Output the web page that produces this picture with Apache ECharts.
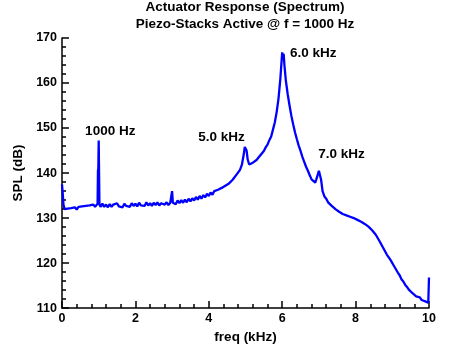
<!DOCTYPE html>
<html>
<head>
<meta charset="utf-8">
<script src="https://cdn.jsdelivr.net/npm/echarts@6/dist/echarts.min.js"></script>
<style>
  html, body { margin: 0; padding: 0; background: #fff; }
  #chart { width: 474px; height: 349px; }
</style>
</head>
<body>
<div id="chart"></div>
<script>
// spectrum: frequency (kHz) and SPL (dB)
const freq = [
  0.00, 0.02, 0.04, 0.07, 0.10, 0.15, 0.20, 0.25, 0.30, 0.35, 0.40, 0.45, 0.50, 0.55, 0.60, 0.65, 0.70, 0.75, 0.80, 0.85,
  0.90, 0.95, 0.97, 0.98, 0.99, 1.00, 1.01, 1.02, 1.05, 1.10, 1.15, 1.20, 1.25, 1.30, 1.35, 1.40, 1.45, 1.50, 1.55, 1.60,
  1.65, 1.70, 1.75, 1.80, 1.85, 1.90, 1.95, 2.00, 2.05, 2.10, 2.15, 2.20, 2.25, 2.30, 2.35, 2.40, 2.45, 2.50, 2.55, 2.60,
  2.65, 2.70, 2.75, 2.80, 2.85, 2.90, 2.95, 2.98, 3.00, 3.02, 3.05, 3.10, 3.15, 3.20, 3.25, 3.30, 3.35, 3.40, 3.45, 3.50,
  3.55, 3.60, 3.65, 3.70, 3.75, 3.80, 3.85, 3.90, 3.95, 4.00, 4.05, 4.10, 4.15, 4.20, 4.25, 4.30, 4.35, 4.40, 4.45, 4.50,
  4.55, 4.60, 4.65, 4.70, 4.75, 4.80, 4.85, 4.90, 4.95, 4.98, 5.00, 5.03, 5.06, 5.10, 5.15, 5.20, 5.25, 5.30, 5.35, 5.40,
  5.45, 5.50, 5.55, 5.60, 5.65, 5.70, 5.75, 5.80, 5.85, 5.90, 5.95, 5.98, 6.00, 6.02, 6.04, 6.06, 6.10, 6.15, 6.20, 6.25,
  6.30, 6.35, 6.40, 6.45, 6.50, 6.55, 6.60, 6.65, 6.70, 6.75, 6.80, 6.85, 6.90, 6.93, 6.96, 7.00, 7.03, 7.06, 7.10, 7.15,
  7.20, 7.25, 7.30, 7.35, 7.40, 7.45, 7.50, 7.55, 7.60, 7.65, 7.70, 7.75, 7.80, 7.85, 7.90, 7.95, 8.00, 8.05, 8.10, 8.15,
  8.20, 8.25, 8.30, 8.35, 8.40, 8.45, 8.50, 8.55, 8.60, 8.65, 8.70, 8.75, 8.80, 8.85, 8.90, 8.95, 9.00, 9.05, 9.10, 9.15,
  9.20, 9.25, 9.30, 9.35, 9.40, 9.45, 9.50, 9.55, 9.60, 9.65, 9.70, 9.75, 9.80, 9.85, 9.90, 9.95, 9.98, 10.00
];
const spl = [
  137.5, 135.5, 133.0, 132.0, 131.7, 132.1, 131.7, 132.2, 131.8, 132.4, 131.9, 132.5, 132.1, 132.6, 132.2, 132.7, 132.3, 132.8, 132.4, 133.0,
  132.5, 132.9, 133.2, 140.5, 141.0, 147.2, 140.0, 133.0, 132.5, 133.2, 132.5, 133.0, 132.4, 133.1, 132.5, 133.0, 132.6, 133.3, 132.6, 133.0,
  132.4, 133.2, 132.7, 133.1, 132.5, 133.3, 132.7, 133.2, 132.6, 133.4, 132.8, 133.2, 132.7, 133.5, 132.8, 133.3, 132.7, 133.4, 132.9, 133.5,
  132.8, 133.3, 133.7, 133.0, 133.5, 132.9, 133.4, 133.5, 136.0, 133.4, 133.6, 133.1, 133.9, 133.3, 134.0, 133.4, 134.1, 133.5, 134.3, 133.7,
  134.4, 133.9, 134.7, 134.1, 134.9, 134.3, 135.1, 134.6, 135.4, 134.9, 135.7, 135.2, 136.0, 135.6, 136.3, 135.9, 136.7, 136.4, 137.2, 137.2,
  137.7, 137.9, 138.5, 138.8, 139.6, 139.9, 140.7, 141.8, 144.0, 145.8, 146.0, 145.0, 143.0, 141.9, 142.1, 142.3, 142.7, 142.9, 143.4, 143.7,
  144.4, 144.9, 145.7, 146.3, 147.3, 148.1, 149.7, 151.3, 153.6, 156.6, 161.0, 164.5, 166.8, 166.0, 166.5, 164.0, 160.5, 157.5, 155.0, 152.7,
  150.8, 149.0, 147.5, 146.1, 144.9, 143.6, 142.5, 141.4, 140.5, 139.5, 138.6, 138.3, 137.9, 138.6, 139.0, 140.5, 140.2, 138.5, 136.0, 134.8,
  134.3, 133.5, 133.4, 132.7, 132.7, 132.0, 132.1, 131.4, 131.6, 130.9, 131.2, 130.6, 130.9, 130.3, 130.6, 130.0, 130.3, 129.6, 129.9, 129.2,
  129.3, 128.7, 128.7, 128.1, 127.8, 127.3, 126.9, 126.3, 125.9, 124.9, 124.5, 123.4, 123.1, 121.9, 121.7, 120.7, 120.4, 119.3, 119.0, 117.9,
  117.3, 116.4, 115.9, 115.2, 114.7, 114.1, 113.7, 113.3, 113.0, 112.6, 112.3, 112.4, 111.8, 112.2, 111.5, 111.9, 111.2, 116.8
];

// peak notes: left edge of the text at (kHz, dB)
const noteText = ['1000 Hz', '5.0 kHz', '6.0 kHz', '7.0 kHz'];
const noteX = [0.63, 3.71, 6.21, 6.98];
const noteY = [149.3, 147.9, 166.7, 144.2];

const font = 'Liberation Sans, Arial, sans-serif';
const chart = echarts.init(document.getElementById('chart'));

chart.setOption({
  animation: false,
  grid: { left: 62, right: 45, top: 38, bottom: 39 },
  graphic: [
    { type: 'text', style: { text: 'Actuator Response (Spectrum)', x: 245, y: 7, align: 'center', verticalAlign: 'middle', font: 'bold 13.5px ' + font, fill: '#000' } },
    { type: 'text', style: { text: 'Piezo-Stacks Active @ f = 1000 Hz', x: 245, y: 24, align: 'center', verticalAlign: 'middle', font: 'bold 13.5px ' + font, fill: '#000' } }
  ],
  xAxis: {
    type: 'value',
    min: 0,
    max: 10,
    interval: 2,
    name: 'freq (kHz)',
    nameLocation: 'middle',
    nameGap: 20,
    nameTextStyle: { fontSize: 13.5, fontWeight: 'bold', fontFamily: font, color: '#000' },
    axisLine: { lineStyle: { color: '#000', width: 1.5 } },
    axisTick: { inside: true, length: 7, lineStyle: { color: '#000', width: 1.5 } },
    minorTick: { show: true, splitNumber: 5, length: 4, lineStyle: { color: '#000', width: 1.5 } },
    axisLabel: { margin: 4, fontSize: 12.5, fontWeight: 'bold', fontFamily: font, color: '#000' },
    splitLine: { show: false }
  },
  yAxis: {
    type: 'value',
    min: 110,
    max: 170,
    interval: 10,
    name: 'SPL (dB)',
    nameLocation: 'middle',
    nameGap: 33,
    nameTextStyle: { fontSize: 13.5, fontWeight: 'bold', fontFamily: font, color: '#000' },
    axisLine: { show: true, lineStyle: { color: '#000', width: 1.5 } },
    axisTick: { show: true, inside: true, length: 7, lineStyle: { color: '#000', width: 1.5 } },
    minorTick: { show: true, splitNumber: 5, length: 4, lineStyle: { color: '#000', width: 1.5 } },
    axisLabel: { margin: 5, fontSize: 12.5, fontWeight: 'bold', fontFamily: font, color: '#000' },
    splitLine: { show: false }
  },
  series: [
    {
      type: 'line',
      data: freq.map((f, i) => [f, spl[i]]),
      showSymbol: false,
      lineStyle: { color: '#0000ff', width: 2.3 },
      z: 3
    },
    {
      type: 'scatter',
      symbolSize: 0,
      silent: true,
      itemStyle: { opacity: 1 },
      data: noteText.map((t, i) => ({ name: t, value: [noteX[i], noteY[i]] })),
      label: {
        show: true,
        position: 'inside',
        align: 'left',
        verticalAlign: 'middle',
        formatter: p => p.name,
        fontSize: 13.5,
        fontWeight: 'bold',
        fontFamily: font,
        color: '#000'
      }
    }
  ]
});

window.addEventListener('resize', () => chart.resize());
</script>
</body>
</html>
